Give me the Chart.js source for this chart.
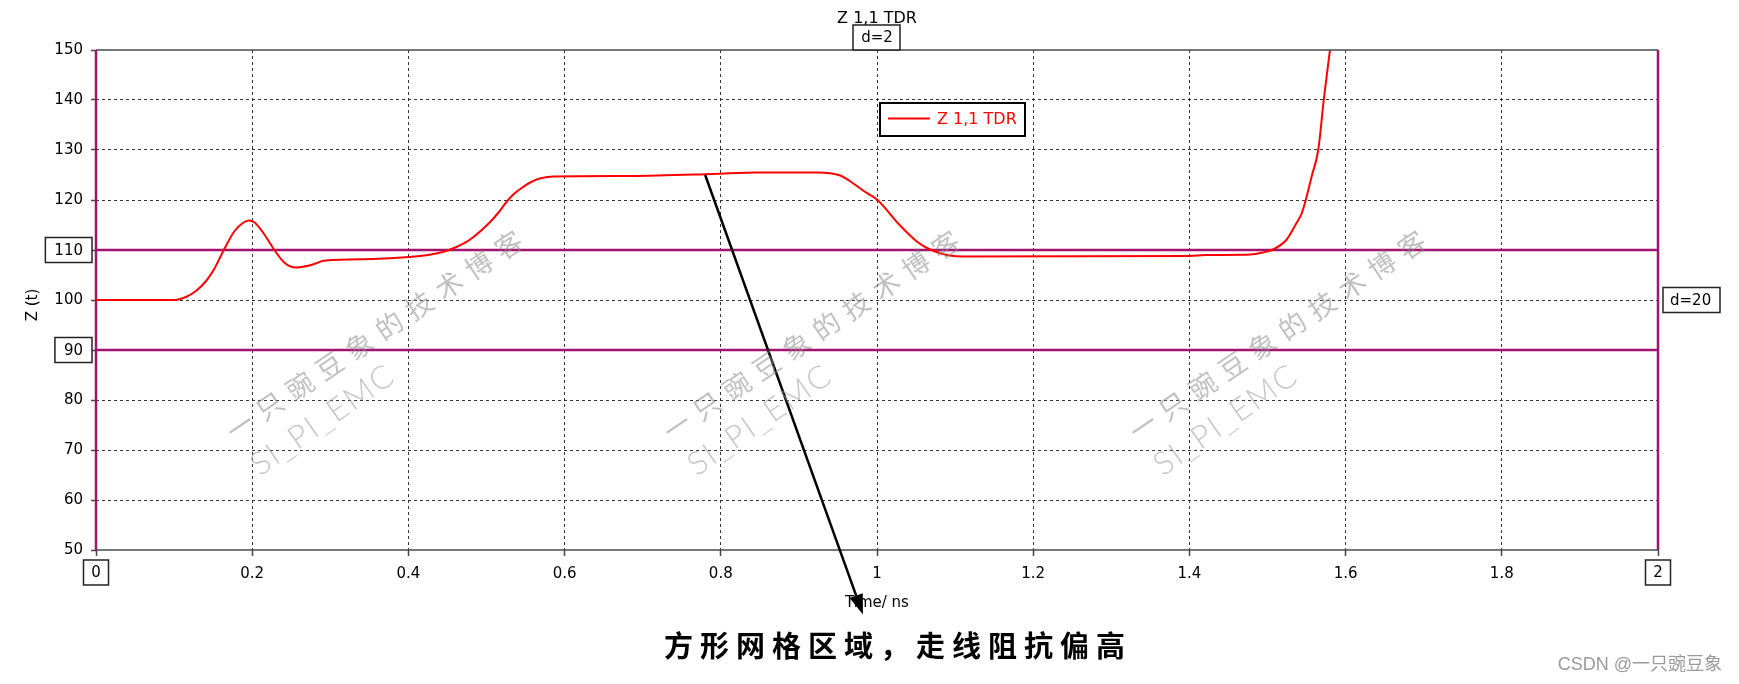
<!DOCTYPE html>
<html>
<head>
<meta charset="utf-8">
<script src="https://cdn.jsdelivr.net/npm/chart.js@4.4.0/dist/chart.umd.min.js"></script>
<style>
html,body{margin:0;padding:0;background:#fff;overflow:hidden}
#wrap{width:1739px;height:684px;position:relative}
</style>
</head>
<body>
<div id="wrap"><canvas id="c" width="1739" height="684"></canvas></div>
<script>
// ---------- data ----------
const timeNs = [0, 0.1, 0.115, 0.128, 0.141, 0.151, 0.164, 0.177, 0.188, 0.196, 0.203, 0.213, 0.228, 0.241, 0.256, 0.273, 0.294, 0.354, 0.401, 0.425, 0.444, 0.46, 0.479, 0.504, 0.517, 0.526, 0.535, 0.545, 0.556, 0.566, 0.585, 0.684, 0.79, 0.846, 0.923, 0.953, 0.965, 0.985, 1.0, 1.029, 1.051, 1.064, 1.08, 1.093, 1.11, 1.40, 1.42, 1.478, 1.494, 1.507, 1.524, 1.535, 1.544, 1.549, 1.557, 1.565, 1.572, 1.58];
const zTdr   = [100, 100, 100.6, 101.8, 103.8, 106.1, 110.1, 113.7, 115.4, 115.9, 115.5, 113.7, 110.1, 107.5, 106.5, 106.9, 107.9, 108.2, 108.6, 109.0, 109.6, 110.5, 112.1, 115.5, 117.8, 119.7, 121.2, 122.4, 123.5, 124.2, 124.7, 124.8, 125.2, 125.5, 125.5, 124.9, 123.8, 121.6, 120.1, 115.0, 111.7, 110.4, 109.4, 108.9, 108.7, 108.8, 109.0, 109.1, 109.5, 110.1, 112.0, 114.8, 117.4, 120.0, 125.0, 130.0, 140.0, 150.0];
const xTickValues = [0, 0.2, 0.4, 0.6, 0.8, 1, 1.2, 1.4, 1.6, 1.8, 2];
const yTickValues = [50, 60, 70, 80, 90, 100, 110, 120, 130, 140, 150];
const cursorLevels = [110, 90];   // horizontal cursors (Z)
const cursorTimes = [0, 2];       // vertical cursors (ns)
const seriesName = 'Z 1,1 TDR';
const chartTitle = 'Z 1,1 TDR';
const xTitle = 'Time/ ns';
const yTitle = 'Z (t)';
const arrowFrom = [0.78, 125.0];
const arrowTo = [0.982, 37.1];
const noteText = '方形网格区域，走线阻抗偏高';
const watermarkCN = '一只豌豆象的技术博客';
const watermarkEN = 'SI_PI_EMC';
const creditText = 'CSDN @一只豌豆象';

// ---------- styles ----------
const PURPLE = '#a3126e';
const FONT = '"DejaVu Sans", Verdana, sans-serif';

function fmt(v){ return String(Math.round(v*10)/10); }

function boxAround(ctx, x1, y1, x2, y2){
  ctx.save();
  ctx.fillStyle = '#fff';
  ctx.fillRect(x1, y1, x2-x1, y2-y1);
  ctx.strokeStyle = '#222';
  ctx.lineWidth = 1.5;
  ctx.strokeRect(x1, y1, x2-x1, y2-y1);
  ctx.restore();
}

const decor = {
  id: 'decor',
  afterDraw(chart){
    const {ctx, chartArea:a, scales:{x, y}} = chart;
    ctx.save();
    // frame lines
    ctx.strokeStyle = '#4a4a4a';
    ctx.lineWidth = 1.5;
    ctx.beginPath(); ctx.moveTo(a.left, a.top); ctx.lineTo(a.right, a.top); ctx.stroke();
    ctx.beginPath(); ctx.moveTo(a.left, a.bottom); ctx.lineTo(a.right + 1, a.bottom); ctx.stroke();

    ctx.font = '15px ' + FONT;
    ctx.fillStyle = '#000';
    ctx.textBaseline = 'middle';

    // boxed y labels on cursor levels
    cursorLevels.forEach(v => {
      const py = y.getPixelForValue(v);
      const t = String(v);
      const w = ctx.measureText(t).width;
      const right = a.left - 13;
      boxAround(ctx, right - w - 9, py - 12.5, a.left - 4, py + 12.5);
      ctx.textAlign = 'right';
      ctx.fillStyle = '#000';
      ctx.fillText(t, right, py + 1);
    });
    // boxed x labels on cursor times
    cursorTimes.forEach(t => {
      const px = x.getPixelForValue(t);
      boxAround(ctx, px - 12.5, a.bottom + 10, px + 12.5, a.bottom + 35);
      ctx.textAlign = 'center';
      ctx.fillStyle = '#000';
      ctx.fillText(fmt(t), px, a.bottom + 23);
    });

    // title
    ctx.font = '16px ' + FONT;
    ctx.textAlign = 'center';
    ctx.fillStyle = '#000';
    const midT = (cursorTimes[0] + cursorTimes[1]) / 2;
    ctx.fillText(chartTitle, x.getPixelForValue(midT), 19);

    // d=2 box at top
    ctx.font = '15px ' + FONT;
    const dT = 'd=' + fmt(cursorTimes[1] - cursorTimes[0]);
    const cx = x.getPixelForValue(midT);
    boxAround(ctx, cx - 24, 25, cx + 23, a.top);
    ctx.fillStyle = '#000';
    ctx.fillText(dT, cx, 38);

    // d=20 box at right
    const dZ = 'd=' + fmt(cursorLevels[0] - cursorLevels[1]);
    const midZ = y.getPixelForValue((cursorLevels[0] + cursorLevels[1]) / 2);
    boxAround(ctx, a.right + 5, midZ - 12.5, a.right + 62, midZ + 12.5);
    ctx.textAlign = 'left';
    ctx.fillStyle = '#000';
    ctx.fillText(dZ, a.right + 12, midZ + 1);

    // axis titles
    ctx.textAlign = 'center';
    ctx.fillText(xTitle, x.getPixelForValue(midT), a.bottom + 53);
    ctx.save();
    ctx.translate(33, 305);
    ctx.rotate(-Math.PI/2);
    ctx.fillText(yTitle, 0, 0);
    ctx.restore();

    // legend
    ctx.fillStyle = '#fff';
    ctx.fillRect(880, 103, 145, 33);
    ctx.strokeStyle = '#000';
    ctx.lineWidth = 2;
    ctx.strokeRect(880, 103, 145, 33);
    ctx.strokeStyle = '#ff0000';
    ctx.beginPath(); ctx.moveTo(888, 118.5); ctx.lineTo(930, 118.5); ctx.stroke();
    ctx.font = '16px ' + FONT;
    ctx.fillStyle = '#ff0000';
    ctx.textAlign = 'left';
    ctx.fillText(seriesName, 937, 120);

    // arrow
    const ax1 = x.getPixelForValue(arrowFrom[0]), ay1 = y.getPixelForValue(arrowFrom[1]);
    const ax2 = x.getPixelForValue(arrowTo[0]), ay2 = y.getPixelForValue(arrowTo[1]);
    const ang = Math.atan2(ay2 - ay1, ax2 - ax1);
    const hl = 20, hw = 7;
    const bx = ax2 - hl*Math.cos(ang), by = ay2 - hl*Math.sin(ang);
    ctx.strokeStyle = '#000';
    ctx.lineWidth = 2.5;
    ctx.beginPath(); ctx.moveTo(ax1, ay1); ctx.lineTo(bx, by); ctx.stroke();
    ctx.fillStyle = '#000';
    ctx.beginPath();
    ctx.moveTo(ax2, ay2);
    ctx.lineTo(bx + hw*Math.sin(ang), by - hw*Math.cos(ang));
    ctx.lineTo(bx - hw*Math.sin(ang), by + hw*Math.cos(ang));
    ctx.closePath(); ctx.fill();

    // note
    ctx.font = 'bold 29px "Noto Sans CJK SC"';
    ctx.letterSpacing = '7px';
    ctx.textAlign = 'center';
    ctx.fillStyle = '#000';
    ctx.fillText(noteText, 898, 646);
    ctx.letterSpacing = '0px';

    // watermarks
    const marks = [[378, 333, 323, 420], [815, 333, 760, 420], [1281, 333, 1226, 420]];
    marks.forEach(m => {
      ctx.save();
      ctx.translate(m[0], m[1]);
      ctx.rotate(-34 * Math.PI/180);
      ctx.font = '27px "Noto Sans CJK SC"';
      ctx.letterSpacing = '9px';
      ctx.fillStyle = 'rgba(140,140,140,0.55)';
      ctx.textAlign = 'center';
      ctx.fillText(watermarkCN, 0, 0);
      ctx.restore();
      ctx.save();
      ctx.translate(m[2], m[3]);
      ctx.rotate(-35 * Math.PI/180);
      ctx.font = '300 32px Lato, "Open Sans", sans-serif';
      ctx.letterSpacing = '2px';
      ctx.fillStyle = 'rgba(150,150,150,0.55)';
      ctx.textAlign = 'center';
      ctx.fillText(watermarkEN, 0, 0);
      ctx.restore();
    });

    // credit
    ctx.letterSpacing = '0px';
    ctx.font = '18px "Liberation Sans", "Noto Sans CJK SC", sans-serif';
    ctx.fillStyle = '#9a9a9a';
    ctx.textAlign = 'right';
    ctx.fillText(creditText, 1722, 665);
    ctx.restore();
  }
};

function build(){
  const datasets = [{
    label: seriesName,
    data: timeNs.map((t, i) => ({x: t, y: zTdr[i]})),
    borderColor: '#ff0000',
    borderWidth: 2,
    pointRadius: 0,
    cubicInterpolationMode: 'monotone',
    order: 0
  }];
  cursorLevels.forEach(v => datasets.push({
    label: 'cursor ' + v,
    data: [{x: cursorTimes[0], y: v}, {x: cursorTimes[1], y: v}],
    borderColor: PURPLE, borderWidth: 2.5, pointRadius: 0, order: 1, clip: 4
  }));
  cursorTimes.forEach(t => datasets.push({
    label: 'cursor t' + t,
    data: [{x: t, y: yTickValues[0]}, {x: t, y: yTickValues[yTickValues.length-1]}],
    borderColor: PURPLE, borderWidth: 2.5, pointRadius: 0, order: 1, clip: 4
  }));

  new Chart(document.getElementById('c'), {
    type: 'line',
    data: { datasets },
    options: {
      responsive: false,
      animation: false,
      devicePixelRatio: 1,
      layout: { padding: { top: 50, right: 81, left: 0, bottom: 0 } },
      plugins: { legend: { display: false }, tooltip: { enabled: false }, title: { display: false } },
      scales: {
        x: {
          type: 'linear',
          min: xTickValues[0], max: xTickValues[xTickValues.length-1],
          afterBuildTicks: s => { s.ticks = xTickValues.map(v => ({value: v})); },
          afterFit: s => { s.height = 134; },
          ticks: {
            autoSkip: false, maxRotation: 0, padding: 9, color: '#000',
            font: { family: FONT, size: 15 },
            callback: v => (cursorTimes.includes(v) ? '' : fmt(v))
          },
          grid: {
            color: c => (c.tick && cursorTimes.includes(c.tick.value)) ? 'rgba(0,0,0,0)' : '#333',
            tickColor: '#444', tickLength: 6, lineWidth: 1, tickWidth: 1.5
          },
          border: { display: false, dash: [3, 3] }
        },
        y: {
          type: 'linear',
          min: yTickValues[0], max: yTickValues[yTickValues.length-1],
          afterBuildTicks: s => { s.ticks = yTickValues.map(v => ({value: v})); },
          afterFit: s => { s.width = 96; },
          ticks: {
            padding: 8, color: '#000',
            font: { family: FONT, size: 15 },
            callback: v => (cursorLevels.includes(v) ? '' : String(v))
          },
          grid: {
            color: c => (c.tick && (c.tick.value === yTickValues[0] || c.tick.value === yTickValues[yTickValues.length-1] || cursorLevels.includes(c.tick.value))) ? 'rgba(0,0,0,0)' : '#333',
            tickColor: '#444', tickLength: 5, lineWidth: 1, tickWidth: 1.5
          },
          border: { display: false, dash: [3, 3] }
        }
      }
    },
    plugins: [decor]
  });
}

Promise.all([
  document.fonts.load('15px "DejaVu Sans"'),
  document.fonts.load('bold 29px "Noto Sans CJK SC"', '方形网格'),
  document.fonts.load('27px "Noto Sans CJK SC"', '一只豌豆象'),
  document.fonts.load('300 32px Lato')
]).catch(() => {}).then(build);
</script>
</body>
</html>
